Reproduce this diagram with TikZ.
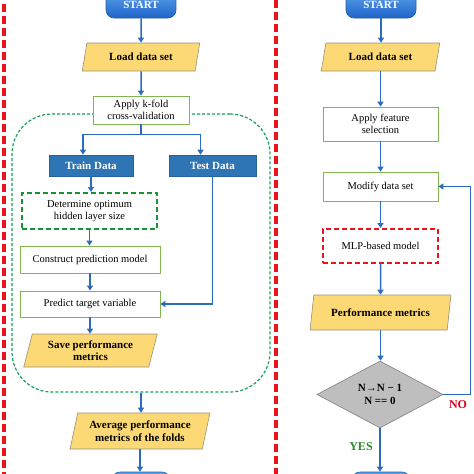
\documentclass[tikz,border=0pt]{standalone}
\usepackage{fontspec}
\setmainfont{Liberation Serif}
\usetikzlibrary{shapes.geometric,arrows.meta}
\definecolor{arrowblue}{RGB}{44,108,190}
\definecolor{boxblue}{RGB}{46,117,182}
\definecolor{boxblueedge}{RGB}{40,95,155}
\definecolor{termtop}{RGB}{90,160,235}
\definecolor{termbot}{RGB}{30,100,200}
\definecolor{paryellow}{RGB}{252,217,116}
\definecolor{pargray}{RGB}{150,145,120}
\definecolor{boxgreen}{RGB}{130,180,80}
\definecolor{detgreen}{RGB}{20,150,50}
\definecolor{regiongreen}{RGB}{20,160,90}
\definecolor{framered}{RGB}{235,20,30}
\definecolor{diagray}{RGB}{190,190,190}
\definecolor{yesgreen}{RGB}{40,140,40}
\definecolor{nored}{RGB}{220,0,30}
\begin{document}
\begin{tikzpicture}[x=1pt,y=-1pt,
  arr/.style={draw=arrowblue, line width=1.5pt, -{Triangle[length=5pt,width=6pt]}},
  ln/.style={draw=arrowblue, line width=1.5pt},
  txt/.style={font=\fontsize{10.5}{12.3}\selectfont, align=center, inner sep=1pt},
  para/.style={txt, trapezium, trapezium left angle=74, trapezium right angle=106,
    trapezium stretches=true, fill=paryellow, draw=pargray, line width=0.6pt,
    font=\fontsize{11}{12.5}\selectfont\bfseries},
  gbox/.style={txt, rectangle, draw=boxgreen, fill=white, line width=0.8pt},
  bbox/.style={txt, rectangle, fill=boxblue, draw=boxblueedge, line width=0.6pt, text=white,
    font=\fontsize{11}{12.5}\selectfont\bfseries},
  term/.style={rectangle, rounded corners=8pt, top color=termtop, bottom color=termbot,
    draw=boxblueedge, line width=0.6pt, text=white, font=\fontsize{11}{12.5}\selectfont\bfseries},
  lbl/.style={font=\fontsize{12}{14}\selectfont\bfseries, inner sep=1pt}
]
\useasboundingbox (0,0) rectangle (474,474);
\clip (0,0) rectangle (474,474);

% frame and region
\draw[framered, line width=4pt, dash pattern=on 8pt off 4pt] (4,-20) rectangle (276,500);
\node[draw=regiongreen, dash pattern=on 3pt off 2pt, line width=1.2pt, rounded corners=40pt,
  minimum width=258, minimum height=278, inner sep=0pt] (reg) at (141,253) {};

% left column
\node[term, minimum width=70, minimum height=26] (s1) at (141,5) {START};
\node[para, minimum width=118, minimum height=28] (l1) at (141,57) {Load data set};
\node[gbox, minimum width=96, minimum height=28] (ak) at (141,110) {Apply k-fold\\cross-validation};
\node[bbox, minimum width=84, minimum height=21] (tr) at (91,165.5) {Train Data};
\node[bbox, minimum width=87, minimum height=21] (te) at (212.5,165.5) {Test Data};
\node[gbox, draw=detgreen, dash pattern=on 5pt off 3pt, line width=2pt,
  minimum width=135, minimum height=36] (de) at (89.5,211) {Determine optimum\\hidden layer size};
\node[gbox, minimum width=140, minimum height=27] (co) at (90,259.5) {Construct prediction model};
\node[gbox, minimum width=140, minimum height=26] (pr) at (90,304) {Predict target variable};
\node[para, minimum width=135, minimum height=33] (sa) at (90.5,350.5) {Save performance\\metrics};
\node[para, minimum width=140, minimum height=36] (av) at (140,431) {Average performance\\metrics of the folds};
\node[term, minimum width=58, minimum height=26] (e1) at (141,485) {};

% right column
\node[term, minimum width=70, minimum height=26] (s2) at (381,5) {START};
\node[para, minimum width=119, minimum height=28] (l2) at (380.5,57) {Load data set};
\node[gbox, minimum width=115, minimum height=34] (af) at (380.5,124) {Apply feature\\selection};
\node[gbox, minimum width=115, minimum height=29] (mo) at (380.5,186.5) {Modify data set};
\node[gbox, draw=framered, dash pattern=on 5pt off 3pt, line width=2pt,
  minimum width=115, minimum height=34] (ml) at (380.5,246) {MLP-based model};
\node[para, minimum width=141, minimum height=35] (pm) at (380.5,312.5) {Performance metrics};
\node[diamond, fill=diagray, draw=gray, line width=0.6pt, inner sep=0pt, aspect=1.9,
  minimum width=126, minimum height=67, align=center,
  font=\fontsize{11}{12.5}\selectfont\bfseries] (di) at (380,394.5) {N→N − 1\\N == 0};
\node[term, minimum width=58, minimum height=26] (e2) at (381,485) {};
\node[lbl, text=nored] (no) at (458,405) {NO};
\node[lbl, text=yesgreen] (yes) at (361,447) {YES};

% left connectors
\draw[arr] (s1.south) -- (l1.north);
\draw[arr] (l1.south) -- (ak.north);
\draw[ln] (ak.south) -- ++(0,10) coordinate (split);
\draw[arr] (split) -| ([xshift=-8pt]tr.north);
\draw[arr] (split) -| ([xshift=-12pt]te.north);
\draw[arr] (tr.south) -- (tr.south |- de.north);
\draw[arr] (de.south) -- (de.south |- co.north);
\draw[arr] (co.south) -- (pr.north);
\draw[arr] (pr.south) -- (pr.south |- sa.north);
\draw[arr] (te.south) |- (pr.east);
\draw[arr] (reg.south) -- (reg.south |- av.north);
\draw[arr] (av.south) -- (av.south |- e1.north);

% right connectors
\draw[arr] (s2.south) -- (s2.south |- l2.north);
\draw[arr] (l2.south) -- (l2.south |- af.north);
\draw[arr] (af.south) -- (mo.north);
\draw[arr] (mo.south) -- (ml.north);
\draw[arr] (ml.south) -- (pm.north);
\draw[arr] (pm.south) -- (pm.south |- di.north);
\draw[arr] (di.south) -- (di.south |- e2.north);
\draw[arr] (di.east) -- ++(27,0) |- (mo.east);
\end{tikzpicture}
\end{document}
